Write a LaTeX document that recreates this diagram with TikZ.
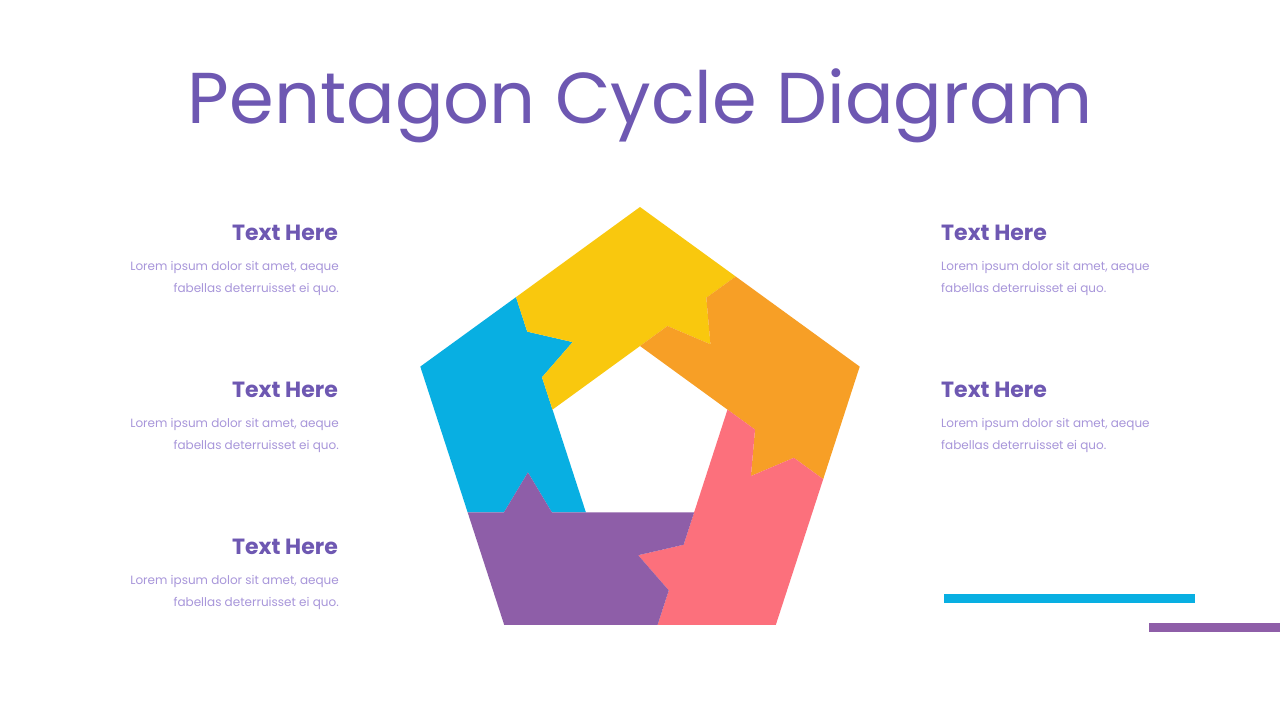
\documentclass[tikz,border=0pt]{standalone}
\usepackage{fontspec}
\setmainfont{Poppins}
\usetikzlibrary{calc}
\definecolor{ttl}{RGB}{110,88,178}
\definecolor{bodytxt}{RGB}{168,150,218}
\definecolor{cyel}{RGB}{249,200,14}
\definecolor{cora}{RGB}{247,159,38}
\definecolor{cpink}{RGB}{252,112,124}
\definecolor{cpur}{RGB}{142,94,168}
\definecolor{cblue}{RGB}{8,175,226}
\tikzset{
  heading/.style={font=\bfseries\fontsize{22}{26}\selectfont, text=ttl, inner sep=0pt},
  bodyL/.style={font=\fontsize{12}{22}\selectfont, text=bodytxt, inner sep=0pt, align=right},
  bodyR/.style={font=\fontsize{12}{22}\selectfont, text=bodytxt, inner sep=0pt, align=left},
}
\begin{document}
\begin{tikzpicture}[x=1pt,y=-1pt]
\useasboundingbox[fill=white] (0,0) rectangle (1280,720);
% title
\node[font=\fontsize{72}{80}\selectfont, text=ttl, anchor=base] (title) at (640,123) {Pentagon Cycle Diagram};
% pentagon geometry
\coordinate (C) at (640,438);
\coordinate (T)  at ($(C)+(0,-231)$);
\coordinate (Rv) at ($(C)+(219.7,-71.4)$);
\coordinate (BR) at ($(C)+(135.8,186.9)$);
\coordinate (BL) at ($(C)+(-135.8,186.9)$);
\coordinate (L)  at ($(C)+(-219.7,-71.4)$);
\coordinate (iT)  at ($(C)+(0,-92)$);
\coordinate (iR)  at ($(C)+(87.5,-28.4)$);
\coordinate (iBR) at ($(C)+(54.1,74.4)$);
\coordinate (iBL) at ($(C)+(-54.1,74.4)$);
\coordinate (iL)  at ($(C)+(-87.5,-28.4)$);
% cut ends on the outer outline
\coordinate (P1) at (intersection of iBR--iBL and L--BL);
\coordinate (P2) at (intersection of iBL--iL and L--T);
\coordinate (P3) at (intersection of iL--iT and T--Rv);
\coordinate (P4) at (intersection of iT--iR and Rv--BR);
\coordinate (P5) at (intersection of iR--iBR and BR--BL);
% spikes on each cut
\foreach \k/\I/\O in {1/iBL/P1, 2/iL/P2, 3/iT/P3, 4/iR/P4, 5/iBR/P5}{
  \coordinate (a\k) at ($(\I)!34pt!(\O)$);
  \coordinate (b\k) at ($(\I)!82pt!(\O)$);
  \coordinate (t\k) at ($(\I)!58pt!(\O)!40pt!-90:(\O)$);
}
% pieces
\fill[cblue] (iBL) -- (a1) -- (t1) -- (b1) -- (P1) -- (L) -- (P2) -- (b2) -- (t2) -- (a2) -- (iL) -- cycle;
\fill[cyel] (iL) -- (a2) -- (t2) -- (b2) -- (P2) -- (T) -- (P3) -- (b3) -- (t3) -- (a3) -- (iT) -- cycle;
\fill[cora] (iT) -- (a3) -- (t3) -- (b3) -- (P3) -- (Rv) -- (P4) -- (b4) -- (t4) -- (a4) -- (iR) -- cycle;
\fill[cpink] (iR) -- (a4) -- (t4) -- (b4) -- (P4) -- (BR) -- (P5) -- (b5) -- (t5) -- (a5) -- (iBR) -- cycle;
\fill[cpur] (iBR) -- (a5) -- (t5) -- (b5) -- (P5) -- (BL) -- (P1) -- (b1) -- (t1) -- (a1) -- (iBL) -- cycle;
% left texts
\foreach \n/\y in {1/240, 2/397, 3/554}{
  \node[heading, anchor=base east] (hl\n) at (338,\y) {Text Here};
  \node[bodyL, anchor=north east] (bl\n) at (339,\y+21) {Lorem ipsum dolor sit amet, aeque\\fabellas deterruisset ei quo.};
}
% right texts
\foreach \n/\y in {1/240, 2/397}{
  \node[heading, anchor=base west] (hr\n) at (941,\y) {Text Here};
  \node[bodyR, anchor=north west] (br\n) at (941,\y+21) {Lorem ipsum dolor sit amet, aeque\\fabellas deterruisset ei quo.};
}
% bars
\fill[cblue] (944,594) rectangle (1195,602.5);
\fill[cpur] (1149,623) rectangle (1280,631.5);
\end{tikzpicture}
\end{document}
